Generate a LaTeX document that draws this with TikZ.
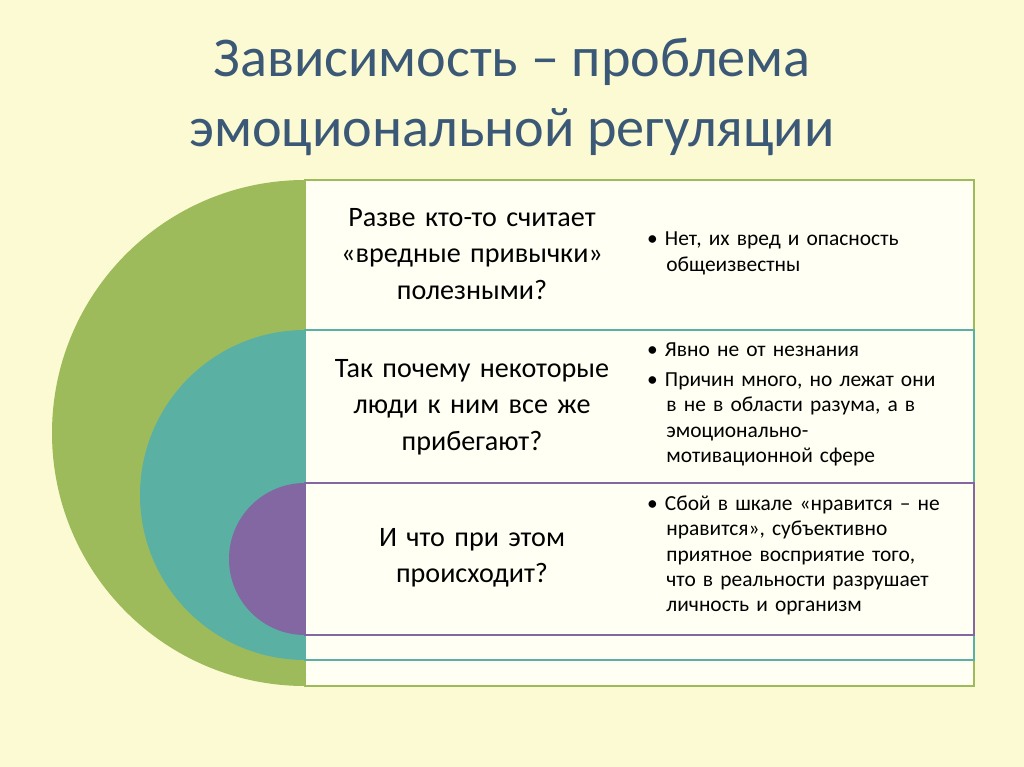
\documentclass[tikz,border=0pt]{standalone}
\usepackage{fontspec}
\setmainfont{Carlito}
\definecolor{bg}{HTML}{FBFAD2}
\definecolor{gr}{HTML}{9EBB5C}
\definecolor{tl}{HTML}{5BB0A4}
\definecolor{pu}{HTML}{8267A3}
\definecolor{ttl}{HTML}{3B5877}
\definecolor{cell}{HTML}{FFFFF4}
\begin{document}
\begin{tikzpicture}[x=0.03cm,y=-0.03cm,
  q/.style={align=center,font=\fontsize{24}{31}\selectfont,text width=340*0.03cm},
  b/.style={align=left,font=\fontsize{18.3}{21.5}\selectfont,text width=340*0.03cm,anchor=north west},
  fr/.style={line width=1.8pt,fill=cell}]
\fill[bg] (0,0) rectangle (1024,767);
\useasboundingbox (0,0) rectangle (1024,767);
\node[font=\fontsize{48}{60}\selectfont,text=ttl,align=center] (title) at (512,97) {Зависимость – проблема\\эмоциональной регуляции};
\fill[gr] (305,180) arc[start angle=-90,end angle=-270,radius=253] -- cycle;
\fill[tl] (305,330) arc[start angle=-90,end angle=-270,radius=165] -- cycle;
\fill[pu] (305,483) arc[start angle=-90,end angle=-270,radius=76] -- cycle;
\draw[fr,draw=gr] (305,180) rectangle (974,686);
\draw[fr,draw=tl] (305,330) rectangle (974,660);
\draw[fr,draw=pu] (305,483) rectangle (974,635);
\node[q] (q1) at (472,254) {Разве кто-то считает\\«вредные привычки»\\полезными?};
\node[q] (q2) at (472,407) {Так почему некоторые\\люди к ним все же\\прибегают?};
\node[q] (q3) at (472,558) {И что при этом\\происходит?};
\node[b] (b1) at (643,228) {\textbullet\ Нет, их вред и опасность\\\hspace*{0.9em}общеизвестны};
\node[b] (b2) at (643,339) {\textbullet\ Явно не от незнания\\[4pt]\textbullet\ Причин много, но лежат они\\\hspace*{0.9em}в не в области разума, а в\\\hspace*{0.9em}эмоционально-\\\hspace*{0.9em}мотивационной сфере};
\node[b] (b3) at (643,492) {\textbullet\ Сбой в шкале «нравится – не\\\hspace*{0.9em}нравится», субъективно\\\hspace*{0.9em}приятное восприятие того,\\\hspace*{0.9em}что в реальности разрушает\\\hspace*{0.9em}личность и организм};
\end{tikzpicture}
\end{document}
